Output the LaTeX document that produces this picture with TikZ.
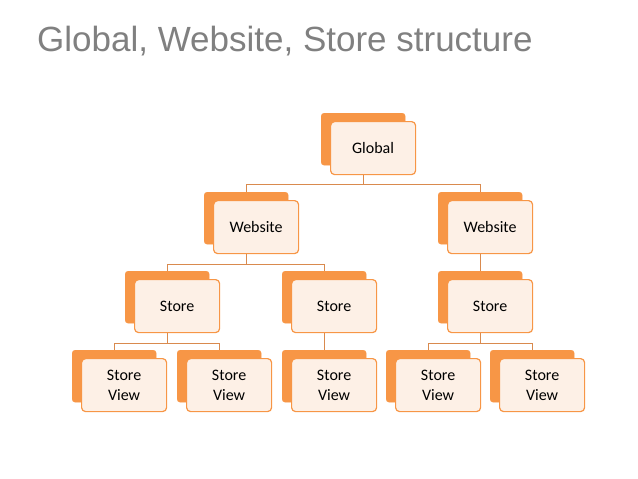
\documentclass[tikz,border=0pt]{standalone}
\usepackage{fontspec}
\setmainfont{Carlito}
\newfontfamily\titlefont{Liberation Sans}
\definecolor{org}{HTML}{F79646}
\definecolor{cream}{HTML}{FDF0E6}
\definecolor{lnk}{HTML}{D98A4E}
\tikzset{
  backbox/.style={fill=org,draw=org,rounded corners=3pt,minimum width=84pt,minimum height=52pt,inner sep=0pt},
  frontbox/.style={fill=cream,draw=org,line width=1.2pt,rounded corners=4pt,minimum width=85pt,minimum height=53pt,inner sep=0pt,align=center,font=\fontsize{16}{20}\selectfont},
  link/.style={draw=lnk,line width=1.4pt}
}
\newcommand{\tnode}[4]{%
  \node[backbox,anchor=north west] (#1b) at (#2,-#3) {};
  \node[frontbox,anchor=north west] (#1) at (#2+9,-#3-8) {#4};
}
\begin{document}
\begin{tikzpicture}[x=1pt,y=1pt]
\useasboundingbox (0,0) rectangle (638,-479);
\node[anchor=base west,text=gray,font=\titlefont\fontsize{35}{38}\selectfont,inner sep=0pt] (title) at (37,-51) {Global, Website, Store structure};
\tnode{g}{321}{113}{Global}
\tnode{w1}{204}{192}{Website}
\tnode{w2}{438}{192}{Website}
\tnode{s1}{125}{271}{Store}
\tnode{s2}{282}{271}{Store}
\tnode{s3}{438}{271}{Store}
\tnode{v1}{72}{350}{Store\\View}
\tnode{v2}{177}{350}{Store\\View}
\tnode{v3}{282}{350}{Store\\View}
\tnode{v4}{386}{350}{Store\\View}
\tnode{v5}{490}{350}{Store\\View}
\draw[link] (g.south -| gb.south) -- ++(0,-9) coordinate (gbus);
\draw[link] (w1b.north) |- (gbus) -| (w2b.north);
\draw[link] (w1.south -| w1b.south) -- ++(0,-10) coordinate (w1bus);
\draw[link] (s1b.north) |- (w1bus) -| (s2b.north);
\draw[link] (w2.south -| w2b.south) -- (s3b.north);
\draw[link] (s1.south -| s1b.south) -- ++(0,-10) coordinate (s1bus);
\draw[link] (v1b.north) |- (s1bus) -| (v2b.north);
\draw[link] (s2.south -| s2b.south) -- (v3b.north);
\draw[link] (s3.south -| s3b.south) -- ++(0,-10) coordinate (s3bus);
\draw[link] (v4b.north) |- (s3bus) -| (v5b.north);
\end{tikzpicture}
\end{document}
